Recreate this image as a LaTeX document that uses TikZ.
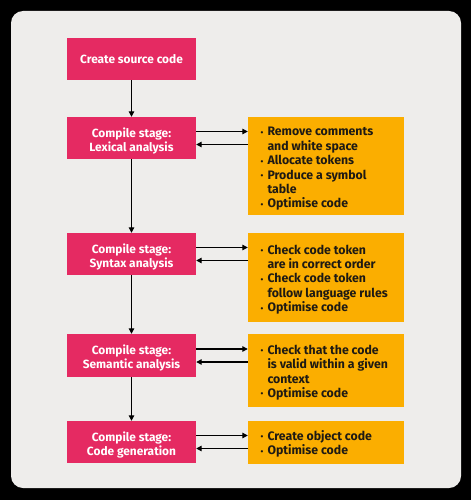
\documentclass[tikz,border=0pt]{standalone}
\usepackage{fontspec}
\setmainfont{Fira Sans}
\usetikzlibrary{arrows.meta,calc}
\definecolor{pinkc}{HTML}{E52A62}
\definecolor{orangec}{HTML}{FBAE00}
\definecolor{panelc}{HTML}{EEEDEB}
\definecolor{darkc}{HTML}{1E1A14}
\newcommand\bul{\makebox[7pt][l]{\raisebox{0.5pt}{\fontsize{8}{8}\selectfont •}}}
\newcommand\ind{\hspace*{7pt}}
\begin{document}
\begin{tikzpicture}[x=1pt,y=-1pt,
  stage/.style={rectangle, fill=pinkc, minimum width=129pt, inner sep=0pt},
  stagetext/.style={inner sep=0pt, text=white, align=center,
    font=\bfseries\fontsize{11.9}{14}\selectfont},
  info/.style={rectangle, fill=orangec, minimum width=156pt, inner sep=0pt},
  infotext/.style={anchor=west, inner sep=0pt, align=left, text=darkc,
    font=\bfseries\fontsize{12.3}{14.4}\selectfont},
  arr/.style={line width=1.2pt, draw=black, -{Triangle[length=5.5pt,width=5.5pt]}}]
\useasboundingbox (0,0) rectangle (471,500);
\fill[black] (0,0) rectangle (471,500);
\fill[panelc, rounded corners=12pt] (11,11) rectangle (461,488);

\node[stage, minimum height=42pt] (p1) at (131.5,59) {};
\node[stage, minimum height=42pt] (p2) at (131.5,138) {};
\node[stage, minimum height=42pt] (p3) at (131.5,254) {};
\node[stage, minimum height=43pt] (p4) at (131.5,355.5) {};
\node[stage, minimum height=42pt] (p5) at (131.5,442) {};

\node[stagetext] (l1) at ([yshift=-0.5pt]p1.center) {Create source code};
\node[stagetext] (l2) at ([yshift=-2.5pt]p2.center) {Compile stage:\\Lexical analysis};
\node[stagetext] (l3) at ([yshift=-2.5pt]p3.center) {Compile stage:\\Syntax analysis};
\node[stagetext] (l4) at ([yshift=-2.5pt]p4.center) {Compile stage:\\Semantic analysis};
\node[stagetext] (l5) at ([yshift=-2.5pt]p5.center) {Compile stage:\\Code generation};

\node[info, minimum height=98pt] (o1) at (326,166) {};
\node[info, minimum height=89pt] (o2) at (326,277.5) {};
\node[info, minimum height=73pt] (o3) at (326,370.5) {};
\node[info, minimum height=43pt] (o4) at (326,442.5) {};

\node[infotext] (t1) at ([xshift=12.5pt,yshift=-3pt]o1.west) {\bul Remove comments\\\ind and white space\\\bul Allocate tokens\\\bul Produce a symbol\\\ind table\\\bul Optimise code};
\node[infotext] (t2) at ([xshift=12.5pt,yshift=-2pt]o2.west) {\bul Check code token\\\ind are in correct order\\\bul Check code token\\\ind follow language rules\\\bul Optimise code};
\node[infotext] (t3) at ([xshift=12.5pt,yshift=-2pt]o3.west) {\bul Check that the code\\\ind is valid within a given\\\ind context\\\bul Optimise code};
\node[infotext] (t4) at ([xshift=12.5pt,yshift=-1.5pt]o4.west) {\bul Create object code\\\bul Optimise code};

\draw[arr] (p1) -- (p2);
\draw[arr] (p2) -- (p3);
\draw[arr] (p3) -- (p4);
\draw[arr] (p4) -- (p5);

\foreach \p/\o in {p2/o1,p3/o2,p4/o3,p5/o4}{
  \draw[arr] ([yshift=6.5pt]\p.east) -- ([yshift=6.5pt]\p.east -| \o.west);
  \draw[arr] ([yshift=-6.5pt]\p.east -| \o.west) -- ([yshift=-6.5pt]\p.east);
}
\end{tikzpicture}
\end{document}
